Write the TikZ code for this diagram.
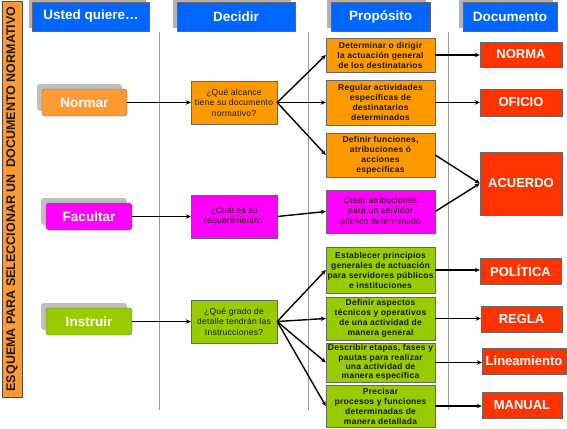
\documentclass[tikz,border=0pt]{standalone}
\usepackage{fontspec}
\setmainfont{Liberation Sans}
\newfontfamily\spacedfont[LetterSpace=3]{Liberation Sans}
\usetikzlibrary{arrows.meta,shadows}
\definecolor{hdrblue}{HTML}{0066FF}
\definecolor{orangeL}{HTML}{FF9933}
\definecolor{orangeD}{HTML}{FF9900}
\definecolor{magentaC}{HTML}{FF00FF}
\definecolor{greenC}{HTML}{99CC00}
\definecolor{docred}{HTML}{FF3300}
\definecolor{txtdark}{HTML}{1A1A00}
\begin{document}
\begin{tikzpicture}[x=1pt,y=-1pt,
  hdr/.style={draw=black!60, fill=hdrblue, text=white, font=\fontsize{13.5}{15}\selectfont\bfseries,
    inner sep=0pt, minimum height=29pt,
    general shadow={fill=black!30, shadow xshift=-4pt, shadow yshift=3pt}},
  choice/.style={draw=black!60, rounded corners=3pt, text=white, font=\fontsize{13.5}{15}\selectfont\bfseries,
    minimum height=27pt, inner sep=0pt,
    general shadow={fill=black!25, shadow xshift=-5pt, shadow yshift=5pt}},
  ask/.style={draw=black!60, font=\spacedfont\fontsize{8.5}{10.5}\selectfont, text=txtdark, align=center,
    minimum width=86pt, minimum height=43pt, inner sep=0pt},
  purp/.style={draw=black!60, font=\spacedfont\fontsize{8.5}{10}\selectfont\bfseries, text=txtdark, align=center,
    minimum width=109pt, inner sep=0pt},
  docbox/.style={draw=black!60, fill=docred, text=white, font=\fontsize{13}{15}\selectfont\bfseries,
    inner sep=0pt, minimum height=26pt},
  link/.style={line width=1.4pt, -{Stealth[length=5pt,width=4.5pt]}},
  divider/.style={draw=black!40, line width=0.8pt}
]
\useasboundingbox (0,0) rectangle (567,428);

% dividers
\coordinate (d1t) at (159,32); \coordinate (d1b) at (159,410);
\coordinate (d2t) at (308,32); \coordinate (d2b) at (308,410);
\coordinate (d3t) at (448,32); \coordinate (d3b) at (448,410);
\draw[divider] (d1t) -- (d1b);
\draw[divider] (d2t) -- (d2b);
\draw[divider] (d3t) -- (d3b);

% left bar
\node[draw=black!70, fill=orangeL, minimum width=396pt, minimum height=20pt, inner sep=0pt,
  text=txtdark, font=\fontsize{12.5}{14}\selectfont\bfseries, rotate=90] (bar) at (12,199)
  {ESQUEMA PARA SELECCIONAR UN \ DOCUMENTO NORMATIVO};

% headers
\node[hdr, minimum width=117pt] (h1) at (91,16.5) {Usted quiere\dots};
\node[hdr, minimum width=118pt] (h2) at (236,16.5) {Decidir};
\node[hdr, minimum width=99pt] (h3) at (380.5,16.5) {Propósito};
\node[hdr, minimum width=94pt] (h4) at (510,16.5) {Documento};

% choices
\node[choice, fill=orangeL, minimum width=85pt] (normar) at (84.5,102.5) {Normar};
\node[choice, fill=magentaC, minimum width=86pt] (facultar) at (89,216.5) {Facultar};
\node[choice, fill=greenC, minimum width=86pt] (instruir) at (89,321.5) {Instruir};

% decisions
\node[ask, fill=orangeD] (q1) at (234,102.5) {¿Qué alcance\\tiene su documento\\normativo?};
\node[ask, fill=magentaC] (q2) at (234,216.5) {¿Cuál es su\\requerimiento?};
\node[ask, fill=greenC] (q3) at (234,321.5) {¿Qué grado de\\detalle tendrán las\\Instrucciones?};

% purposes
\node[purp, fill=orangeD, minimum height=34pt] (p1) at (380.5,55) {Determinar o dirigir\\la actuación general\\de los destinatarios};
\node[purp, fill=orangeD, minimum height=45pt] (p2) at (380.5,102.5) {Regular actividades\\específicas de\\destinatarios\\determinados};
\node[purp, fill=orangeD, minimum height=44pt] (p3) at (380.5,155) {Definir funciones,\\atribuciones ó\\acciones\\específicas};
\node[purp, fill=magentaC, minimum height=43pt, font=\spacedfont\fontsize{8.5}{10.5}\selectfont] (p4) at (380.5,211.5) {Crear atribuciones\\para un servidor\\público determinado};
\node[purp, fill=greenC, minimum height=46pt] (p5) at (380.5,270) {Establecer principios\\generales de actuación\\para servidores públicos\\e instituciones};
\node[purp, fill=greenC, minimum height=43pt] (p6) at (380.5,318.5) {Definir aspectos\\técnicos y operativos\\de una actividad de\\manera general};
\node[purp, fill=greenC, minimum height=39pt, font=\spacedfont\fontsize{8.5}{9.4}\selectfont\bfseries] (p7) at (380.5,362.5) {Describir etapas, fases y\\pautas para realizar\\una actividad de\\manera específica};
\node[purp, fill=greenC, minimum height=42pt] (p8) at (380.5,406) {Precisar\\procesos y funciones\\determinadas de\\manera detallada};

% documents
\node[docbox, minimum width=82pt, minimum height=25pt] (norma) at (521,54.5) {NORMA};
\node[docbox, minimum width=82pt, minimum height=27pt] (oficio) at (521,102.5) {OFICIO};
\node[docbox, minimum width=82pt, minimum height=63pt] (acuerdo) at (521,183.5) {ACUERDO};
\node[docbox, minimum width=81pt] (politica) at (520.5,271) {POLÍTICA};
\node[docbox, minimum width=81pt] (regla) at (521.5,319) {REGLA};
\node[docbox, minimum width=84pt] (linea) at (524,361) {Lineamiento};
\node[docbox, minimum width=80pt] (manual) at (522,405) {MANUAL};

% connectors
\draw[link] (normar) -- (q1);
\draw[link] (facultar) -- (q2);
\draw[link] (instruir) -- (q3);

\draw[link] (q1.east) -- (p1.west);
\draw[link] (q1.east) -- (p2.west);
\draw[link] (q1.east) -- (p3.west);
\draw[link] (q2.east) -- (p4.west);
\draw[link] (q3.east) -- (p5.west);
\draw[link] (q3.east) -- (p6.west);
\draw[link] (q3.east) -- (p7.west);
\draw[link] (q3.east) -- (p8.west);

\draw[link] (p1.east) -- (p1.east -| norma.west);
\draw[link] (p2.east) -- (p2.east -| oficio.west);
\draw[link] (p3.east) -- (acuerdo.west);
\draw[link] (p4.east) -- (acuerdo.west);
\draw[link] (p5.east) -- (p5.east -| politica.west);
\draw[link] (p6.east) -- (p6.east -| regla.west);
\draw[link] (p7.east) -- (p7.east -| linea.west);
\draw[link] (p8.east) -- (p8.east -| manual.west);
\end{tikzpicture}
\end{document}
